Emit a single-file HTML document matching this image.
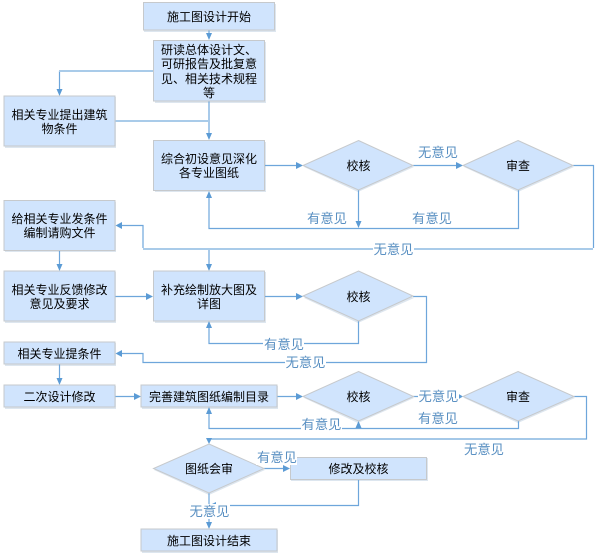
<!DOCTYPE html>
<html><head><meta charset="utf-8"><style>
html,body{margin:0;padding:0;background:#fff;width:604px;height:558px;overflow:hidden}
svg{display:block}
.b{fill:#d0e4fd;stroke:#c6c9cc;stroke-width:1}
.s{fill:#dde6ef}
.l{fill:none;stroke:#6ea6db;stroke-width:1.2}
.k{fill:none;stroke:#a9cbe9;stroke-width:2}
.a{fill:#5b9bd5}
.t{font:12px "Liberation Sans","WenQuanYi Zen Hei","Noto Sans CJK SC",sans-serif;fill:#000;text-anchor:middle}
.y{font:13.3px "Liberation Sans","WenQuanYi Zen Hei","Noto Sans CJK SC",sans-serif;fill:#5a90c2;text-anchor:middle}
.bg{fill:#fff}
</style></head><body>
<svg width="604" height="558" viewBox="0 0 604 558" xmlns="http://www.w3.org/2000/svg">
<!-- shadows -->
<g class="s">
<rect x="144" y="4" width="132" height="28"/><rect x="155" y="42" width="111" height="61"/>
<rect x="5" y="97" width="111" height="51"/><rect x="155" y="142" width="111" height="50"/>
<rect x="5" y="202" width="111" height="50"/><rect x="5" y="272" width="111" height="51"/>
<rect x="155" y="272" width="111" height="51"/><rect x="5" y="343" width="111" height="23"/>
<rect x="5" y="386" width="111" height="23"/><rect x="142" y="386" width="136" height="23"/>
<rect x="291" y="458" width="137" height="23"/><rect x="142" y="530" width="136" height="23"/>
<polygon points="358,142 414,167 358,192 304,167"/><polygon points="518,142 574,167 518,192 464,167"/>
<polygon points="358,273 414,298 358,323 304,298"/><polygon points="358,373 414,398 358,423 304,398"/>
<polygon points="518,373 575,398 518,423 464,398"/><polygon points="209,446 265,470 209,495 154,470"/>
</g>
<!-- connectors -->
<g class="l">
<path d="M209 30.500V36"/>
<path d="M59.500 71V90"/>
<path d="M209 101V134"/>
<path d="M264 165.500H297"/>
<path d="M413 165.500H457"/>
<path d="M358.500 190V223"/>
<path d="M518.500 190V228.500H209V197"/>
<path d="M573 165.500H593.500V248"/>
<path d="M143 248V225.500H121"/>
<path d="M209 249V265"/>
<path d="M59.500 250V265"/>
<path d="M115 296.500H147"/>
<path d="M264 296.500H297"/>
<path d="M358.500 321V343.500H209V327"/>
<path d="M413 296.500H426.500V362.500H143V353.500H121"/>
<path d="M59.500 364V379"/>
<path d="M115 396.500H135"/>
<path d="M277 396.500H297"/>
<path d="M413 396.500H457"/>
<path d="M518.500 421V428.500H209V413"/>
<path d="M574 396.500H586.500V439H209V440"/>
<path d="M264 468.500H284"/>
<path d="M358.500 479V505.500H215"/>
<path d="M209 493V523"/>
</g>
<g class="k">
<path d="M153 71H59"/>
<path d="M115 121H209"/>
<path d="M593 249H143"/>
</g>
<!-- arrowheads -->
<g class="a">
<polygon points="206,33 212,33 209,40"/>
<polygon points="56.500,89 62.500,89 59.500,96"/>
<polygon points="206,133 212,133 209,140"/>
<polygon points="296,162 303,165.500 296,169"/>
<polygon points="456,162 463,165.500 456,169"/>
<polygon points="355.500,221 361.500,221 358.500,228"/>
<polygon points="206,198 212,198 209,191"/>
<polygon points="122,222 122,229 115.500,225.500"/>
<polygon points="206,264 212,264 209,271"/>
<polygon points="56.500,264 62.500,264 59.500,271"/>
<polygon points="146,293 153,296.500 146,300"/>
<polygon points="296,293 303,296.500 296,300"/>
<polygon points="206,328 212,328 209,321"/>
<polygon points="122,350 122,357 115.500,353.500"/>
<polygon points="56.500,378 62.500,378 59.500,385"/>
<polygon points="134,393 141,396.500 134,400"/>
<polygon points="296,393 303,396.500 296,400"/>
<polygon points="457,393 463,396.500 457,400"/>
<polygon points="355.500,428 361.500,428 358.500,421"/>
<polygon points="206,414 212,414 209,407"/>
<polygon points="206,438 212,438 209,444"/>
<polygon points="283,465 290,468.500 283,472"/>
<polygon points="216,502 216,509 209,505.500"/>
<polygon points="206,522 212,522 209,529"/>
</g>
<!-- nodes -->
<g class="b">
<rect x="143.500" y="2.500" width="131" height="27.500"/>
<rect x="153.500" y="40.500" width="111" height="60.500"/>
<rect x="4" y="96" width="111" height="50"/>
<rect x="153.500" y="140.500" width="111" height="50"/>
<rect x="4" y="200.500" width="111" height="50"/>
<rect x="4" y="271" width="111" height="50"/>
<rect x="153.500" y="271" width="111" height="50"/>
<rect x="4" y="342" width="111" height="22"/>
<rect x="4" y="385" width="111" height="22"/>
<rect x="141" y="385" width="136" height="22"/>
<rect x="290.500" y="457.500" width="136" height="22"/>
<rect x="141" y="529" width="136" height="22"/>
<polygon points="358.500,140.500 413,165.500 358.500,190 303,165.500"/>
<polygon points="518,140.500 573,165.500 518,190 463,165.500"/>
<polygon points="358.500,271 413,296 358.500,321 303,296"/>
<polygon points="358.500,371.500 413.500,396.500 358.500,421 303,396.500"/>
<polygon points="518,371.500 574,396.500 518,421 463,396.500"/>
<polygon points="209,444 264,468.500 209,493 153.500,468.500"/>
</g>
<!-- node text -->
<g class="t">
<text x="209" y="21">施工图设计开始</text>
<text x="209" y="54">研读总体设计文、</text>
<text x="209" y="68">可研报告及批复意</text>
<text x="209" y="83">见、相关技术规程</text>
<text x="209" y="97">等</text>
<text x="59.500" y="119">相关专业提出建筑</text>
<text x="59.500" y="133">物条件</text>
<text x="209" y="163">综合初设意见深化</text>
<text x="209" y="177">各专业图纸</text>
<text x="59.500" y="223">给相关专业发条件</text>
<text x="59.500" y="237">编制请购文件</text>
<text x="59.500" y="294">相关专业反馈修改</text>
<text x="59.500" y="308">意见及要求</text>
<text x="209" y="294">补充绘制放大图及</text>
<text x="209" y="308">详图</text>
<text x="59.500" y="358">相关专业提条件</text>
<text x="59.500" y="401">二次设计修改</text>
<text x="209" y="401">完善建筑图纸编制目录</text>
<text x="358.500" y="170">校核</text>
<text x="518" y="170">审查</text>
<text x="358.500" y="301">校核</text>
<text x="358.500" y="401">校核</text>
<text x="518" y="401">审查</text>
<text x="209" y="473">图纸会审</text>
<text x="358.500" y="473">修改及校核</text>
<text x="209" y="545">施工图设计结束</text>
</g>
<!-- connector labels -->
<g>
<rect class="bg" x="373" y="242" width="41" height="15"/>
<rect class="bg" x="263" y="337" width="41" height="15"/>
<rect class="bg" x="285" y="355" width="41" height="15"/>
<rect class="bg" x="301" y="417" width="41" height="15"/>
<rect class="bg" x="418" y="389" width="41" height="15"/>
<rect class="bg" x="256" y="450" width="41" height="15"/>
<rect class="bg" x="189" y="504" width="41" height="15"/>
</g>
<g class="y">
<text x="438" y="157">无意见</text>
<text x="327" y="223">有意见</text>
<text x="432" y="223">有意见</text>
<text x="393.500" y="254">无意见</text>
<text x="284" y="349">有意见</text>
<text x="305.500" y="367">无意见</text>
<text x="321.500" y="429">有意见</text>
<text x="438.500" y="401">无意见</text>
<text x="438" y="423">有意见</text>
<text x="484" y="454">无意见</text>
<text x="277" y="462">有意见</text>
<text x="209.500" y="516">无意见</text>
</g>
</svg>
</body></html>
